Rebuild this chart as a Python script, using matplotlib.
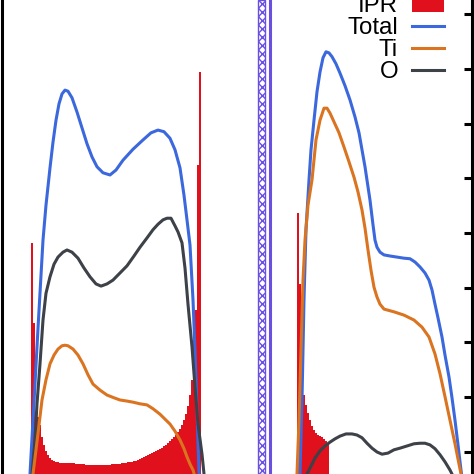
import matplotlib.pyplot as plt
import numpy as np
from matplotlib.lines import Line2D
from matplotlib.patches import Patch

plt.rcParams["font.family"] = ["Liberation Sans", "DejaVu Sans"]

RED = "#e0101c"
BLUE = "#3b68dd"
ORANGE = "#db7420"
DARK = "#3d4148"
PURPLE = "#6a50e0"

# left block: valence-side DOS (energy in arb. units)
total_vb_e = [2.7, 3.0, 3.4, 3.8, 4.3, 4.6, 5.0, 5.3, 5.6, 5.9, 6.2, 6.5, 6.8, 7.2, 7.7,
              8.2, 8.7, 9.2, 9.7, 10.3, 11.0, 11.6, 12.3, 13.3, 14.3, 15.1, 15.8, 16.4,
              17.0, 17.5, 18.0, 18.4, 18.7, 19.0, 19.3, 19.5, 19.7, 19.9, 20.1]
total_vb = [0.0, 0.60, 1.91, 3.26, 4.87, 5.51, 6.19, 6.66, 7.06, 7.36, 7.54, 7.61, 7.59,
            7.47, 7.21, 6.92, 6.63, 6.39, 6.21, 6.10, 6.06, 6.15, 6.33, 6.53, 6.70, 6.83,
            6.88, 6.85, 6.73, 6.52, 6.19, 5.69, 5.24, 4.78, 3.78, 2.86, 1.77, 0.60, 0.0]

o_vb_e = [2.9, 3.2, 3.5, 3.7, 4.0, 4.3, 4.6, 5.0, 5.4, 5.8, 6.3, 6.7, 7.2, 7.8, 8.4, 9.0,
          9.6, 10.1, 10.7, 11.3, 12.0, 12.7, 13.4, 14.0, 14.7, 15.3, 15.8, 16.3, 16.7,
          17.1, 17.5, 17.8, 18.2, 18.5, 18.8, 19.2, 19.5, 19.8, 20.2, 20.4, 20.7]
o_vb = [0.0, 0.60, 1.22, 1.88, 2.61, 3.41, 3.90, 4.20, 4.43, 4.56, 4.65, 4.69, 4.65, 4.54,
        4.36, 4.20, 4.07, 4.03, 4.07, 4.14, 4.27, 4.40, 4.58, 4.74, 4.91, 5.06, 5.16, 5.24,
        5.27, 5.27, 5.13, 5.02, 4.82, 4.36, 3.70, 2.92, 2.19, 1.51, 0.96, 0.60, 0.0]

ti_vb_e = [3.1, 3.3, 3.6, 3.9, 4.2, 4.6, 5.0, 5.4, 5.8, 6.2, 6.5, 6.8, 7.3, 7.8, 8.3, 8.8,
           9.3, 10.0, 10.7, 11.4, 12.0, 12.7, 13.3, 14.0, 14.7, 15.3, 16.0, 16.5, 17.0,
           17.5, 18.0, 18.4, 18.7, 19.0, 19.3, 19.6, 20.0]
ti_vb = [0.0, 0.60, 1.04, 1.49, 1.95, 2.32, 2.61, 2.77, 2.88, 2.94, 2.95, 2.94, 2.88, 2.77,
         2.61, 2.41, 2.24, 2.13, 2.04, 1.99, 1.95, 1.93, 1.91, 1.88, 1.86, 1.79, 1.69, 1.60,
         1.51, 1.38, 1.22, 1.06, 0.91, 0.78, 0.67, 0.49, 0.0]

# right block: conduction-side DOS
total_cb_e = [29.8, 30.0, 30.2, 30.4, 30.6, 30.9, 31.1, 31.4, 31.7, 32.0, 32.3, 32.6, 32.9,
              33.2, 33.6, 34.0, 34.5, 35.0, 35.5, 35.9, 36.2, 36.5, 37.0, 37.3, 37.5, 37.7,
              38.0, 38.4, 39.0, 39.7, 40.4, 41.0, 41.5, 42.0, 42.5, 42.9, 43.2, 43.5, 43.8,
              44.2, 44.5, 44.9, 45.2, 45.5, 45.8, 46.1, 46.3, 46.6]
total_cb = [0.0, 0.60, 1.95, 3.78, 5.06, 5.97, 6.52, 7.06, 7.58, 7.94, 8.20, 8.31, 8.29,
            8.22, 8.09, 7.92, 7.69, 7.43, 7.12, 6.83, 6.52, 6.21, 5.60, 5.15, 4.87, 4.74,
            4.65, 4.60, 4.58, 4.56, 4.54, 4.53, 4.47, 4.38, 4.27, 4.14, 3.96, 3.70, 3.45,
            3.10, 2.77, 2.37, 1.99, 1.58, 1.13, 0.67, 0.40, 0.0]

ti_cb_e = [29.6, 29.7, 29.9, 30.1, 30.3, 30.5, 30.8, 31.2, 31.6, 32.0, 32.4, 32.7, 33.0,
           33.4, 33.9, 34.4, 34.9, 35.4, 35.8, 36.2, 36.5, 36.8, 37.1, 37.4, 37.7, 38.0,
           38.4, 39.0, 39.4, 40.4, 41.4, 42.2, 42.9, 43.5, 44.0, 44.5, 45.0, 45.5, 45.9,
           46.1, 46.4]
ti_cb = [0.0, 0.60, 1.58, 2.86, 4.14, 4.87, 5.51, 5.97, 6.70, 7.06, 7.28, 7.28, 7.19, 7.03,
         6.83, 6.57, 6.30, 6.02, 5.75, 5.42, 5.09, 4.69, 4.32, 4.01, 3.83, 3.70, 3.61, 3.58,
         3.56, 3.50, 3.41, 3.28, 3.10, 2.79, 2.43, 2.01, 1.58, 1.15, 0.78, 0.60, 0.0]

o_cb_e = [30.3, 30.7, 31.1, 31.5, 32.0, 32.5, 33.0, 33.5, 34.0, 34.6, 35.2, 35.7, 36.2,
          36.7, 37.2, 37.7, 38.2, 38.8, 39.4, 40.0, 40.7, 41.4, 42.0, 42.5, 43.0, 43.5,
          44.0, 44.5, 45.0, 45.3, 45.7]
o_cb = [0.0, 0.60, 0.74, 0.89, 1.02, 1.11, 1.18, 1.24, 1.29, 1.33, 1.33, 1.31, 1.26, 1.16,
        1.07, 1.00, 0.96, 0.98, 1.04, 1.07, 1.11, 1.15, 1.16, 1.16, 1.13, 1.06, 0.95, 0.82,
        0.67, 0.56, 0.31]

# inverse participation ratio per state
ipr_vb = [4.82, 3.35, 1.64, 1.64, 1.49, 1.27, 1.13, 1.02, 0.95, 0.89, 0.85, 0.84, 0.82,
          0.82, 0.80, 0.80, 0.80, 0.80, 0.80, 0.80, 0.80, 0.80, 0.78, 0.78, 0.78, 0.78,
          0.78, 0.76, 0.76, 0.76, 0.76, 0.76, 0.76, 0.76, 0.76, 0.76, 0.76, 0.76, 0.76,
          0.76, 0.78, 0.78, 0.78, 0.78, 0.78, 0.80, 0.80, 0.80, 0.82, 0.82, 0.82, 0.84,
          0.84, 0.85, 0.87, 0.89, 0.91, 0.93, 0.95, 0.96, 0.98, 1.00, 1.02, 1.04, 1.06,
          1.07, 1.11, 1.13, 1.16, 1.20, 1.24, 1.27, 1.31, 1.37, 1.42, 1.49, 1.58, 1.69,
          1.84, 2.04, 2.32, 3.05, 3.59, 6.24, 7.94]
ipr_cb = [5.37, 4.07, 2.24, 2.04, 1.86, 1.71, 1.58, 1.48, 1.40, 1.35, 1.31, 1.29, 1.27,
          1.24, 1.20, 1.16]
ipr_vb_e = np.arange(len(ipr_vb)) * 0.2 + 3.2
ipr_cb_e = np.arange(len(ipr_cb)) * 0.2 + 29.8

y_ticks = [1, 2, 3, 4, 5, 6, 7, 8, 9]
labels = ["IPR", "Total", "Ti", "O"]

fig = plt.figure(figsize=(4.74, 4.74), dpi=100)
ax = fig.add_axes([1.5 / 474, 0.0, 470.2 / 474, 1.0])

ax.bar(ipr_vb_e, ipr_vb, width=0.2, color=RED, linewidth=0, zorder=1)
ax.bar(ipr_cb_e, ipr_cb, width=0.2, color=RED, linewidth=0, zorder=1)

lw = 2.2
ax.plot(total_vb_e, total_vb, color=BLUE, lw=lw, zorder=3)
ax.plot(o_vb_e, o_vb, color=DARK, lw=lw, zorder=3)
ax.plot(ti_vb_e, ti_vb, color=ORANGE, lw=lw, zorder=3)
ax.plot(total_cb_e, total_cb, color=BLUE, lw=lw, zorder=3)
ax.plot(ti_cb_e, ti_cb, color=ORANGE, lw=lw, zorder=3)
ax.plot(o_cb_e, o_cb, color=DARK, lw=lw, zorder=3)

# axis-break marker between the two blocks
ax.axvspan(25.8, 26.5, facecolor="white", edgecolor=PURPLE, hatch="xxxx", linewidth=1.0, zorder=4)
ax.axvline(26.97, color=PURPLE, lw=2.2, zorder=4)

ax.set_xlim(0.15, 47.17)
ax.set_ylim(0.598, 9.256)
ax.set_xticks([])
ax.set_yticks(y_ticks)
ax.yaxis.tick_right()
ax.tick_params(axis="y", direction="in", length=5.8, width=2.2, labelright=False, labelleft=False)
for side in ("top", "bottom"):
    ax.spines[side].set_visible(False)
for side in ("left", "right"):
    ax.spines[side].set_linewidth(2.2)

handles = [
    Patch(facecolor=RED, edgecolor="none"),
    Line2D([], [], color=BLUE, lw=lw),
    Line2D([], [], color=ORANGE, lw=lw),
    Line2D([], [], color=DARK, lw=lw),
]
ax.legend(handles, labels, loc="upper right", bbox_to_anchor=(444 / 474, 1.01),
          bbox_transform=fig.transFigure, frameon=False, markerfirst=False,
          fontsize=17.3, handlelength=1.33, handletextpad=0.58, labelspacing=0.0,
          borderpad=0, borderaxespad=0)

fig.savefig("out.png", dpi=100)
